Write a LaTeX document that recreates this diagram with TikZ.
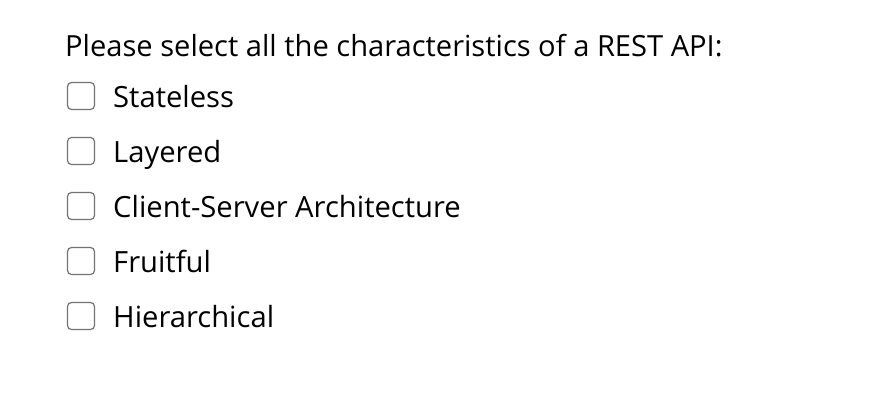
\documentclass[tikz,border=0pt]{standalone}
\usepackage{fontspec}
\setmainfont{Open Sans}
\begin{document}
\begin{tikzpicture}[x=1pt,y=-1pt,
  lbl/.style={anchor=base west,inner sep=0pt,font=\fontsize{29.2}{34}\selectfont,text=black},
  cbox/.style={draw=black!55,line width=1.2pt,rounded corners=4pt,minimum width=27pt,minimum height=27pt,inner sep=0pt}]
\useasboundingbox (0,0) rectangle (873,402);
\node[lbl,font=\fontsize{29.1}{34}\selectfont] (title) at (65,56) {Please select all the characteristics of a REST API:};
\foreach \t [count=\i] in {Stateless,Layered,Client-Server Architecture,Fruitful,Hierarchical}{
  \node[cbox] (b\i) at (81,{96+55*(\i-1)}) {};
  \node[lbl] (t\i) at (113,{107+55*(\i-1)}) {\t};
}
\end{tikzpicture}
\end{document}
